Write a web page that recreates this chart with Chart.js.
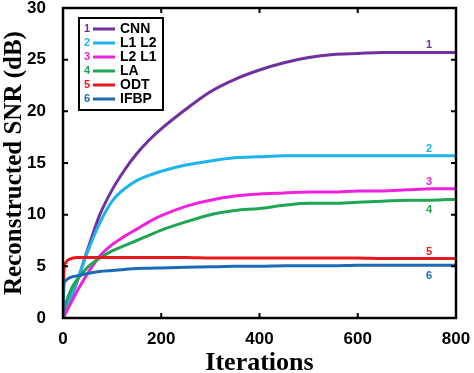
<!DOCTYPE html>
<html>
<head>
<meta charset="utf-8">
<script src="https://cdn.jsdelivr.net/npm/chart.js@4.4.1/dist/chart.umd.min.js"></script>
<style>
  html, body { margin: 0; padding: 0; background: #fff; }
  #wrap { width: 474px; height: 373px; position: relative; }
</style>
</head>
<body>
<div id="wrap"><canvas id="snrChart"></canvas></div>
<script>
// Iterations shared by every curve
const iterations = [0, 2, 5, 10, 20, 30, 50, 75, 100, 125, 150, 175, 200, 250, 300, 350, 400, 450, 500, 550, 600, 650, 700, 750, 800];

// Reconstructed SNR (dB)
const cnnSnr  = [0, 0.2, 0.6, 1.2, 2.4, 3.7, 6.6, 10.0, 12.4, 14.3, 15.9, 17.2, 18.3, 20.2, 21.9, 23.1, 24.0, 24.7, 25.2, 25.5, 25.6, 25.7, 25.7, 25.7, 25.7];
const l1l2Snr = [0, 0.2, 0.6, 1.2, 2.5, 3.8, 6.4, 9.2, 11.3, 12.5, 13.3, 13.8, 14.2, 14.8, 15.2, 15.5, 15.6, 15.7, 15.7, 15.7, 15.7, 15.7, 15.7, 15.7, 15.7];
const l2l1Snr = [0, 0.2, 0.4, 0.9, 1.8, 2.7, 4.3, 6.0, 7.1, 7.9, 8.6, 9.3, 9.9, 10.8, 11.4, 11.8, 12.0, 12.1, 12.2, 12.2, 12.3, 12.3, 12.4, 12.5, 12.5];
const laSnr   = [0, 0.6, 1.3, 2.0, 3.1, 3.8, 4.9, 5.8, 6.5, 7.0, 7.5, 8.0, 8.5, 9.3, 10.0, 10.4, 10.6, 10.9, 11.1, 11.1, 11.2, 11.3, 11.4, 11.4, 11.5];
const odtSnr  = [0, 4.6, 5.3, 5.6, 5.8, 5.85, 5.85, 5.85, 5.85, 5.85, 5.85, 5.85, 5.85, 5.85, 5.8, 5.8, 5.8, 5.8, 5.8, 5.8, 5.8, 5.75, 5.75, 5.75, 5.75];
const ifbpSnr = [0, 3.3, 3.6, 3.8, 4.0, 4.1, 4.3, 4.5, 4.6, 4.7, 4.8, 4.82, 4.85, 4.9, 4.95, 5.0, 5.0, 5.05, 5.05, 5.05, 5.1, 5.1, 5.1, 5.1, 5.1];

const seriesNames  = ['CNN', 'L1 L2', 'L2 L1', 'LA', 'ODT', 'IFBP'];
const seriesColors = ['#7030a0', '#1cb4ec', '#ee22dd', '#1fa653', '#e8191c', '#1b6ab5'];
const seriesValues = [cnnSnr, l1l2Snr, l2l1Snr, laSnr, odtSnr, ifbpSnr];

const xTicks = [0, 200, 400, 600, 800];
const yTicks = [0, 5, 10, 15, 20, 25, 30];

// label offset above (-) or below (+) the curve end, in pixels
const endLabelOffsets = [-7, -7, -7, 11, -7, 11];

const ctx = document.getElementById('snrChart').getContext('2d');

const datasets = seriesValues.map(function(values, i) {
    return {
        label: seriesNames[i],
        data: iterations.map(function(it, j) { return { x: it, y: values[j] }; }),
        borderColor: seriesColors[i],
        backgroundColor: seriesColors[i],
        borderWidth: 3,
        pointRadius: 0,
        cubicInterpolationMode: 'monotone',
        fill: false
    };
}).reverse(); // draw CNN last so it stays on top

// frame, inward ticks, legend box and numbered end labels
const decorations = {
    id: 'decorations',
    afterDraw: function(chart) {
        const c = chart.ctx;
        const area = chart.chartArea;
        const xs = chart.scales.x;
        const ys = chart.scales.y;
        c.save();

        // ticks pointing inward on all four sides
        c.strokeStyle = '#000';
        c.lineWidth = 2;
        const tl = 5;
        xTicks.slice(1, -1).forEach(function(v) {
            const px = xs.getPixelForValue(v);
            c.beginPath();
            c.moveTo(px, area.bottom); c.lineTo(px, area.bottom - tl);
            c.moveTo(px, area.top); c.lineTo(px, area.top + tl);
            c.stroke();
        });
        yTicks.slice(1, -1).forEach(function(v) {
            const py = ys.getPixelForValue(v);
            c.beginPath();
            c.moveTo(area.left, py); c.lineTo(area.left + tl, py);
            c.moveTo(area.right, py); c.lineTo(area.right - tl, py);
            c.stroke();
        });

        // plot frame
        c.lineWidth = 2.5;
        c.strokeRect(area.left, area.top, area.right - area.left, area.bottom - area.top);

        // legend
        const bx = area.left + 16, by = area.top + 10, bw = 84, bh = 92;
        c.fillStyle = '#fff';
        c.fillRect(bx, by, bw, bh);
        c.lineWidth = 2;
        c.strokeRect(bx, by, bw, bh);
        c.textBaseline = 'middle';
        seriesNames.forEach(function(name, i) {
            const ry = by + 11 + i * 14;
            c.fillStyle = seriesColors[i];
            c.font = 'bold 11px "Liberation Sans", Arial, sans-serif';
            c.textAlign = 'center';
            c.fillText(String(i + 1), bx + 8, ry);
            c.strokeStyle = seriesColors[i];
            c.lineWidth = 3;
            c.beginPath();
            c.moveTo(bx + 14, ry); c.lineTo(bx + 36, ry);
            c.stroke();
            c.fillStyle = '#000';
            c.font = 'bold 14px "Liberation Sans", Arial, sans-serif';
            c.textAlign = 'left';
            c.fillText(name, bx + 41, ry + 0.5);
        });

        // numbered labels near the right end of each curve
        c.font = 'bold 11px "Liberation Sans", Arial, sans-serif';
        c.textAlign = 'center';
        seriesValues.forEach(function(values, i) {
            const px = xs.getPixelForValue(745);
            const py = ys.getPixelForValue(values[values.length - 1]) + endLabelOffsets[i];
            c.fillStyle = seriesColors[i];
            c.fillText(String(i + 1), px, py);
        });
        c.restore();
    }
};

new Chart(ctx, {
    type: 'line',
    data: { datasets: datasets },
    options: {
        responsive: true,
        maintainAspectRatio: false,
        animation: false,
        layout: { padding: { top: 8, right: 18, left: 0, bottom: 0 } },
        plugins: {
            legend: { display: false },
            tooltip: { enabled: false }
        },
        scales: {
            x: {
                type: 'linear',
                min: 0,
                max: 800,
                afterFit: function(scale) {
                    scale.height = 55;
                    scale.paddingLeft = 0;
                    scale.paddingRight = 0;
                },
                afterBuildTicks: function(scale) {
                    scale.ticks = xTicks.map(function(v) { return { value: v }; });
                },
                grid: { display: false },
                border: { display: false },
                ticks: {
                    color: '#000',
                    padding: 3,
                    maxRotation: 0,
                    font: { family: '"Liberation Sans", Arial, sans-serif', size: 17, weight: 'bold' }
                },
                title: {
                    display: true,
                    text: 'Iterations',
                    color: '#000',
                    padding: { top: 0, bottom: -6 },
                    font: { family: '"Liberation Serif", "Times New Roman", serif', size: 26, weight: 'bold' }
                }
            },
            y: {
                type: 'linear',
                min: 0,
                max: 30,
                afterFit: function(scale) {
                    scale.width = 63;
                    scale.paddingTop = 0;
                    scale.paddingBottom = 0;
                },
                afterBuildTicks: function(scale) {
                    scale.ticks = yTicks.map(function(v) { return { value: v }; });
                },
                grid: { display: false },
                border: { display: false },
                ticks: {
                    color: '#000',
                    padding: 9,
                    font: { family: '"Liberation Sans", Arial, sans-serif', size: 17, weight: 'bold' }
                },
                title: {
                    display: true,
                    text: 'Reconstructed SNR (dB)',
                    color: '#000',
                    padding: { top: 0, bottom: 0 },
                    font: { family: '"Liberation Serif", "Times New Roman", serif', size: 25, weight: 'bold' }
                }
            }
        }
    },
    plugins: [decorations]
});
</script>
</body>
</html>
